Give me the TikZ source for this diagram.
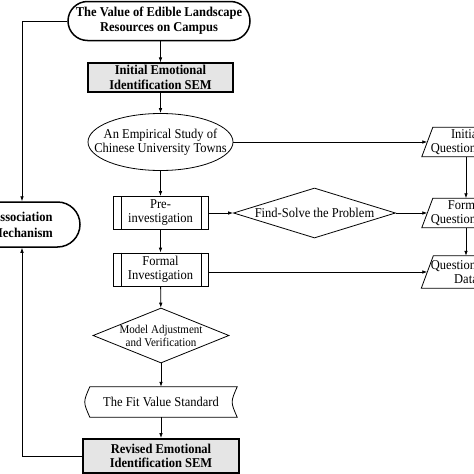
\documentclass[tikz,border=0pt]{standalone}
\usepackage{fontspec}
\setmainfont{Liberation Serif}[FakeStretch=0.926]
\usetikzlibrary{shapes.geometric,shapes.misc,arrows.meta}
\begin{document}
\begin{tikzpicture}[x=1pt,y=-1pt,
  txt/.style={font=\fontsize{13.5}{14}\selectfont, align=center, inner sep=0pt},
  btxt/.style={txt, font=\bfseries\fontsize{13.5}{14.5}\selectfont},
  stxt/.style={txt, font=\fontsize{11.9}{13}\selectfont},
  shp/.style={draw, line width=0.8pt, inner sep=0pt},
  arr/.style={line width=0.8pt, -{Latex[length=5pt,width=3.6pt]}},
  ln/.style={line width=0.8pt},
]
\useasboundingbox (0,0) rectangle (474,474);
\clip (0,0) rectangle (474,474);

% terminals
\node[shp, rounded rectangle, line width=1.5pt, minimum width=182pt, minimum height=39pt] (top) at (159,21) {};
\node[btxt, font=\bfseries\fontsize{13.5}{15}\selectfont] (topT) at (top) {The Value of Edible Landscape\\Resources on Campus};

\node[shp, rounded rectangle, line width=1.5pt, minimum width=116pt, minimum height=45pt] (asc) at (22,224.5) {};
\node[btxt, font=\bfseries\fontsize{13.5}{16}\selectfont] (ascT) at (asc) {Association\\Mechanism};

% SEM boxes
\node[shp, fill=black!10, line width=1.1pt, minimum width=145pt, minimum height=29pt] (ies) at (160.5,77.5) {};
\node[btxt] (iesT) at (ies) {Initial Emotional\\Identification SEM};

\node[shp, fill=black!10, line width=1.8pt, minimum width=156pt, minimum height=34pt] (rev) at (161,456) {};
\node[btxt] (revT) at (rev) {Revised Emotional\\Identification SEM};

% ellipse
\node[shp, ellipse, minimum width=145pt, minimum height=57pt] (emp) at (160.5,142) {};
\node[txt] (empT) at (emp) {An Empirical Study of\\Chinese University Towns};

% predefined processes
\node[shp, minimum width=95pt, minimum height=33pt] (pre) at (160.5,213) {};
\draw[ln] ([xshift=8.5pt]pre.north west) -- ([xshift=8.5pt]pre.south west);
\draw[ln] ([xshift=-7.5pt]pre.north east) -- ([xshift=-7.5pt]pre.south east);
\node[txt] (preT) at (pre) {Pre-\\investigation};

\node[shp, minimum width=95pt, minimum height=33pt] (fi) at (160.5,269.5) {};
\draw[ln] ([xshift=8.5pt]fi.north west) -- ([xshift=8.5pt]fi.south west);
\draw[ln] ([xshift=-7.5pt]fi.north east) -- ([xshift=-7.5pt]fi.south east);
\node[txt] (fiT) at (fi) {Formal\\Investigation};

% decisions
\node[shp, diamond, minimum width=162pt, minimum height=50pt] (fs) at (314.5,213) {};
\node[txt] (fsT) at (fs) {Find-Solve the Problem};

\node[shp, diamond, minimum width=136pt, minimum height=55pt] (mad) at (161,335.5) {};
\node[stxt] (madT) at (mad) {Model Adjustment\\and Verification};

% stored data
\node[txt, minimum width=152pt, minimum height=30pt] (fit) at (161,402) {The Fit Value Standard};
\draw[ln] ([xshift=5pt]fit.north west) -- (fit.north east)
  .. controls ([xshift=-6.7pt]fit.east) .. (fit.south east)
  -- ([xshift=5pt]fit.south west)
  .. controls ([xshift=-1.7pt]fit.west) .. ([xshift=5pt]fit.north west) -- cycle;

% parallelograms (data)
\node[txt, minimum width=77pt, minimum height=29pt] (iq) at (466,142) {Initial\\Questionnaire};
\draw[ln] ([xshift=5.5pt]iq.north west) -- ([xshift=5.5pt]iq.north east) -- ([xshift=-5.5pt]iq.south east) -- ([xshift=-5.5pt]iq.south west) -- cycle;
\node[txt, minimum width=77pt, minimum height=29pt] (fq) at (466,213) {Formal\\Questionnaire};
\draw[ln] ([xshift=5.5pt]fq.north west) -- ([xshift=5.5pt]fq.north east) -- ([xshift=-5.5pt]fq.south east) -- ([xshift=-5.5pt]fq.south west) -- cycle;
\node[txt, minimum width=77pt, minimum height=32pt] (qd) at (466,272) {Questionnaire\\Data};
\draw[ln] ([xshift=6pt]qd.north west) -- ([xshift=6pt]qd.north east) -- ([xshift=-6pt]qd.south east) -- ([xshift=-6pt]qd.south west) -- cycle;

% connectors
\draw[arr] (top.south -| ies.north) -- (ies.north);
\draw[arr] (ies) -- (emp);
\draw[arr] (emp) -- (pre);
\draw[arr] (pre) -- (fi);
\draw[arr] (fi) -- (mad);
\draw[arr] (mad) -- (fit);
\draw[arr] (fit) -- (rev);
\draw[arr] (pre.east) -- (fs.west);
\draw[arr] (fs.east) -- (fq.west);
\draw[arr] (emp.east) -- (iq.west);
\draw[arr] (fi.east |- qd.west) -- (qd.west);
\draw[arr] (iq.south) -- (fq.north);
\draw[arr] (fq.south) -- (qd.north);
\draw[arr] (top.west) -| (asc.north);
\draw[arr] (rev.west) -| (asc.south);
\end{tikzpicture}
\end{document}
